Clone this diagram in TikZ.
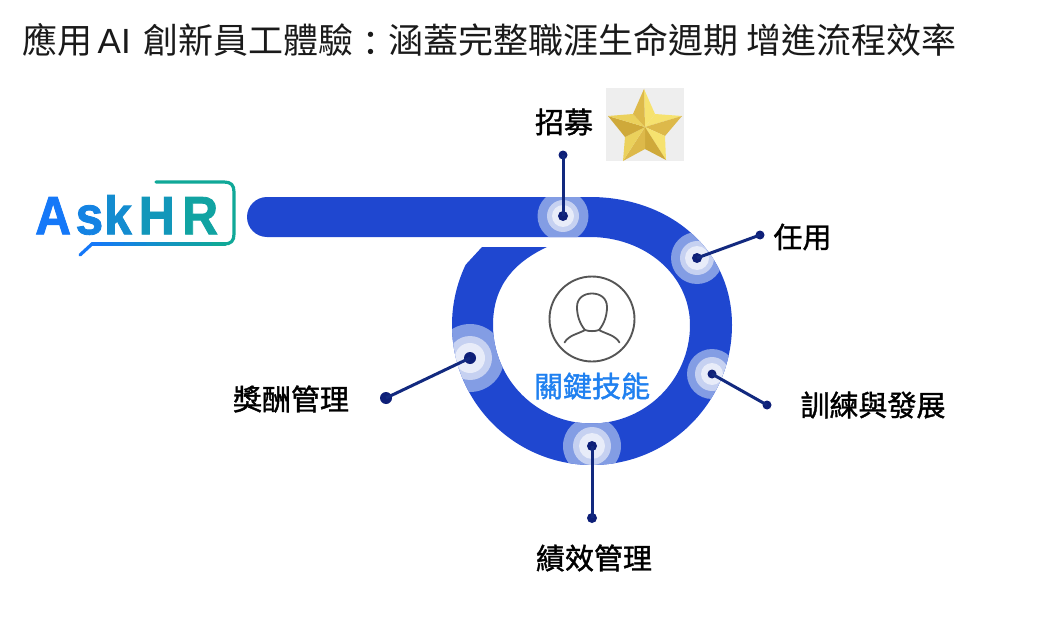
\documentclass[tikz,border=0pt]{standalone}
\usepackage{fontspec}
\setmainfont{Liberation Sans}
\newfontfamily\cjk{Noto Sans CJK TC}
\newfontfamily\cjkm[FakeBold=1.3]{Noto Sans CJK TC}
\newfontfamily\logofont[FakeStretch=0.92,FakeBold=1.6]{Liberation Sans Bold}
\definecolor{band}{HTML}{1F47D0}
\definecolor{haloA}{HTML}{839DE4}
\definecolor{haloB}{HTML}{C6D1F1}
\definecolor{haloC}{HTML}{E8ECF9}
\definecolor{dotc}{HTML}{0E1F78}
\definecolor{linec}{HTML}{12297F}
\definecolor{logoBlue}{HTML}{1578F8}
\definecolor{logoTeal}{HTML}{10A898}
\definecolor{skillblue}{HTML}{1F80F0}
\definecolor{iconc}{HTML}{555555}
\definecolor{starbg}{HTML}{EEEEEE}
\definecolor{titlec}{HTML}{1A1A1A}
\definecolor{sBright}{HTML}{F6E26F}
\definecolor{sLight}{HTML}{EBD15C}
\definecolor{sMid}{HTML}{DDB94A}
\definecolor{sDark}{HTML}{CFA93A}
\tikzset{
  dotm/.style={circle,fill=dotc,inner sep=0pt,minimum size=#1},
  conn/.style={draw=linec,line width=3pt},
  lab/.style={font=\cjkm\fontsize{29}{32}\selectfont,text=black,inner sep=0pt},
  logoline/.style={line width=3.2pt,line cap=round,line join=round},
}
\newcommand{\bandpath}{(267,197) -- (590,197) .. controls (670,197) and (732,250) .. (732,325)
  arc[start angle=0,end angle=-205.5,radius=140pt] -- (482,247) -- (547,247)
  .. controls (515,262) and (493,285) .. (493,325)
  arc[start angle=180,end angle=360,radius=98.5pt]
  .. controls (690,275) and (645,237) .. (590,237) -- (267,237)
  arc[start angle=270,end angle=90,radius=20pt] -- cycle}
\newcommand{\halo}[5]{%
  \fill[haloA] (#1,#2) circle[radius=#3pt];
  \fill[haloB] (#1,#2) circle[radius=#4pt];
  \fill[haloC] (#1,#2) circle[radius=#5pt];}
\begin{document}
\begin{tikzpicture}[x=1pt,y=-1pt]
\useasboundingbox (0,0) rectangle (1053,634);
\fill[white] (0,0) rectangle (1053,634);
% title
\node[anchor=west,inner sep=0pt,text=titlec,font=\fontsize{35}{40}\selectfont] (title) at (22,40)
  {{\cjk 應用}\kern5.5pt AI\kern12.5pt{\cjk 創新員工體驗\raisebox{-3pt}{：}涵蓋完整職涯生命週期}\kern8pt{\cjk 增進流程效率}};
% logo
\node[anchor=west,inner sep=0pt,font=\logofont\fontsize{54}{56}\selectfont] (logo) at (35,215)
  {\color{logoTeal!0!logoBlue}A\kern4.5pt\color{logoTeal!22!logoBlue}s\kern1pt\color{logoTeal!42!logoBlue}k\kern7pt\color{logoTeal!65!logoBlue}H\kern7.5pt\color{logoTeal!90!logoBlue}R};
\draw[logoline,logoTeal] (156,182) -- (224,182) .. controls (231,182) and (234,185) .. (234,192) -- (234,234) .. controls (234,241) and (231,244) .. (224,244);
\foreach \i in {0,...,11}{
  \pgfmathsetmacro{\xa}{92+\i*11}
  \pgfmathsetmacro{\xb}{92+(\i+1)*11.1}
  \pgfmathtruncatemacro{\p}{\i*100/11}
  \draw[logoline,draw=logoTeal!\p!logoBlue] (\xa,244) -- (\xb,244);
}
\draw[logoline,logoBlue] (92,244) -- (80,255);
% band with halos clipped to it
\fill[band] \bandpath;
\begin{scope}
  \clip \bandpath;
  \halo{563}{216}{25.5}{16}{11}
  \halo{697}{258}{26}{17}{12}
  \halo{712}{374}{25}{17}{11}
  \halo{592}{446}{29}{19}{13}
  \halo{470}{358}{34}{22}{15}
\end{scope}
% user icon
\node[circle,draw=iconc,line width=1.9pt,inner sep=0pt,minimum size=85pt] (user) at (592,319) {};
\draw[iconc,line width=1.8pt,line join=round,line cap=round]
  (564.5,342.5) .. controls (569,335) and (578,334) .. (585,330)
  .. controls (580,324) and (577,316) .. (577,307)
  .. controls (577,298) and (584,293.5) .. (592,293.5)
  .. controls (600,293.5) and (607,298) .. (607,307)
  .. controls (607,316) and (604,324) .. (599,330)
  .. controls (606,334) and (615,335) .. (619.5,342.5);
\draw[iconc,line width=1.8pt] (585,330) .. controls (589,331.5) and (595,331.5) .. (599,330);
\node[font=\cjkm\fontsize{29}{32}\selectfont,text=skillblue,inner sep=0pt] (skill) at (592,386) {關鍵技能};
% star
\fill[starbg] (606,88) rectangle (684,161);
\coordinate (sc) at (645,127);
\coordinate (t1) at (644,89);  \coordinate (n1) at (655,114);
\coordinate (t2) at (682,116); \coordinate (n2) at (665,136);
\coordinate (t3) at (666,160); \coordinate (n3) at (645,149);
\coordinate (t4) at (623,161); \coordinate (n4) at (625,137);
\coordinate (t5) at (608,116); \coordinate (n5) at (633,114);
\fill[sBright] (sc)--(t1)--(n1)--cycle;
\fill[sBright] (sc)--(n1)--(t2)--cycle;
\fill[sMid] (sc)--(t2)--(n2)--cycle;
\fill[sBright] (sc)--(n2)--(t3)--cycle;
\fill[sDark] (sc)--(t3)--(n3)--cycle;
\fill[sMid] (sc)--(n3)--(t4)--cycle;
\fill[sLight] (sc)--(t4)--(n4)--cycle;
\fill[sDark] (sc)--(n4)--(t5)--cycle;
\fill[sLight] (sc)--(t5)--(n5)--cycle;
\fill[sMid] (sc)--(n5)--(t1)--cycle;
% markers and connectors
\node[dotm=10pt] (m1) at (563,216) {};
\node[dotm=9pt]  (e1) at (563,155) {};
\node[dotm=10pt] (m2) at (697,258) {};
\node[dotm=9pt]  (e2) at (760,235) {};
\node[dotm=9pt]  (m3) at (712,374) {};
\node[dotm=9pt]  (e3) at (767,405) {};
\node[dotm=10pt] (m4) at (592,446) {};
\node[dotm=10pt] (e4) at (592,518) {};
\node[dotm=12pt] (m5) at (470,358) {};
\node[dotm=12pt] (e5) at (386,398) {};
\draw[conn] (m1.center) -- (e1.center);
\draw[conn] (m2.center) -- (e2.center);
\draw[conn] (m3.center) -- (e3.center);
\draw[conn] (m4.center) -- (e4.center);
\draw[conn] (m5.center) -- (e5.center);
% labels
\node[lab] (l1) at (564,122) {招募};
\node[lab] (l2) at (802.5,237) {任用};
\node[lab] (l3) at (873,405) {訓練與發展};
\node[lab] (l4) at (594,558) {績效管理};
\node[lab] (l5) at (291,399) {獎酬管理};
\end{tikzpicture}
\end{document}
